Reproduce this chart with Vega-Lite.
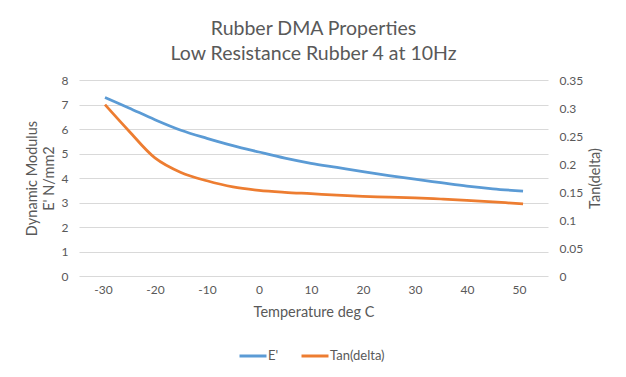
{
  "$schema": "https://vega.github.io/schema/vega-lite/v6.json",
  "width": 469,
  "height": 196,
  "autosize": {"type": "none"},
  "padding": {"left": 79, "top": 80, "right": 78, "bottom": 101},
  "background": "white",
  "config": {
    "font": "Lato",
    "view": {"stroke": null},
    "axis": {"labelColor": "#595959", "titleColor": "#595959", "labelFontSize": 12, "titleFontSize": 14.5, "titleFontWeight": "normal", "labelFont": "Lato", "titleFont": "Lato"},
    "legend": {"labelColor": "#595959", "labelFontSize": 13, "labelFont": "Lato"}
  },
  "title": {
    "text": ["Rubber DMA Properties", "Low Resistance Rubber 4 at 10Hz"],
    "anchor": "middle",
    "fontSize": 19.5,
    "fontWeight": "normal",
    "color": "#595959",
    "font": "Lato",
    "lineHeight": 25,
    "offset": 10
  },
  "datasets": {
    "modulus": [
      {"t": -29.6, "v": 7.29, "series": "E'"},
      {"t": -25, "v": 6.86, "series": "E'"},
      {"t": -20, "v": 6.38, "series": "E'"},
      {"t": -15, "v": 5.95, "series": "E'"},
      {"t": -10, "v": 5.62, "series": "E'"},
      {"t": -5, "v": 5.32, "series": "E'"},
      {"t": 0, "v": 5.06, "series": "E'"},
      {"t": 5, "v": 4.81, "series": "E'"},
      {"t": 10, "v": 4.6, "series": "E'"},
      {"t": 15, "v": 4.43, "series": "E'"},
      {"t": 20, "v": 4.26, "series": "E'"},
      {"t": 25, "v": 4.1, "series": "E'"},
      {"t": 30, "v": 3.95, "series": "E'"},
      {"t": 35, "v": 3.81, "series": "E'"},
      {"t": 40, "v": 3.67, "series": "E'"},
      {"t": 45, "v": 3.56, "series": "E'"},
      {"t": 50.8, "v": 3.46, "series": "E'"}
    ],
    "tan": [
      {"t": -29.6, "v": 0.306, "series": "Tan(delta)"},
      {"t": -25, "v": 0.259, "series": "Tan(delta)"},
      {"t": -20, "v": 0.211, "series": "Tan(delta)"},
      {"t": -15, "v": 0.185, "series": "Tan(delta)"},
      {"t": -10, "v": 0.17, "series": "Tan(delta)"},
      {"t": -5, "v": 0.159, "series": "Tan(delta)"},
      {"t": 0, "v": 0.153, "series": "Tan(delta)"},
      {"t": 5, "v": 0.1495, "series": "Tan(delta)"},
      {"t": 10, "v": 0.147, "series": "Tan(delta)"},
      {"t": 15, "v": 0.1444, "series": "Tan(delta)"},
      {"t": 20, "v": 0.1423, "series": "Tan(delta)"},
      {"t": 25, "v": 0.1408, "series": "Tan(delta)"},
      {"t": 30, "v": 0.1395, "series": "Tan(delta)"},
      {"t": 35, "v": 0.1375, "series": "Tan(delta)"},
      {"t": 40, "v": 0.1352, "series": "Tan(delta)"},
      {"t": 45, "v": 0.1325, "series": "Tan(delta)"},
      {"t": 50.8, "v": 0.1286, "series": "Tan(delta)"}
    ]
  },
  "encoding": {
    "x": {
      "field": "t",
      "type": "quantitative",
      "scale": {"domain": [-34.6, 55.6], "nice": false, "zero": false},
      "axis": {
        "title": "Temperature deg C",
        "values": [-30, -20, -10, 0, 10, 20, 30, 40, 50],
        "labelExpr": "datum.value + ''",
        "grid": false,
        "ticks": false,
        "domain": false,
        "labelPadding": 8,
        "titlePadding": 10
      }
    },
    "color": {
      "field": "series",
      "type": "nominal",
      "scale": {"domain": ["E'", "Tan(delta)"], "range": ["#5B9BD5", "#ED7D31"]},
      "legend": {
        "title": null,
        "orient": "none",
        "direction": "horizontal",
        "legendX": 159,
        "legendY": 261,
        "symbolType": "stroke",
        "symbolSize": 729,
        "symbolStrokeWidth": 3,
        "gridAlign": "none",
        "columnPadding": 16,
        "labelOffset": 0
      }
    }
  },
  "layer": [
    {
      "data": {"name": "modulus"},
      "mark": {"type": "line", "interpolate": "catmull-rom", "strokeWidth": 2.75},
      "encoding": {
        "y": {
          "field": "v",
          "type": "quantitative",
          "scale": {"domain": [0, 8], "nice": false},
          "axis": {
            "title": ["Dynamic Modulus", "E' N/mm2"],
            "orient": "left",
            "values": [0, 1, 2, 3, 4, 5, 6, 7, 8],
            "gridColor": "#D9D9D9",
            "ticks": false,
            "domain": false,
            "labelPadding": 11,
            "titlePadding": 5,
            "titleLineHeight": 17
          }
        }
      }
    },
    {
      "data": {"name": "tan"},
      "mark": {"type": "line", "interpolate": "catmull-rom", "strokeWidth": 2.75},
      "encoding": {
        "y": {
          "field": "v",
          "type": "quantitative",
          "scale": {"domain": [0, 0.35], "nice": false},
          "axis": {
            "title": "Tan(delta)",
            "orient": "right",
            "values": [0, 0.05, 0.1, 0.15, 0.2, 0.25, 0.3, 0.35],
            "format": ".2~f",
            "grid": false,
            "ticks": false,
            "domain": false,
            "labelPadding": 11,
            "titleAngle": -90,
            "titleX": 47,
            "titleY": 98,
            "titleAlign": "center",
            "titleBaseline": "middle"
          }
        }
      }
    }
  ],
  "resolve": {"scale": {"y": "independent"}}
}
